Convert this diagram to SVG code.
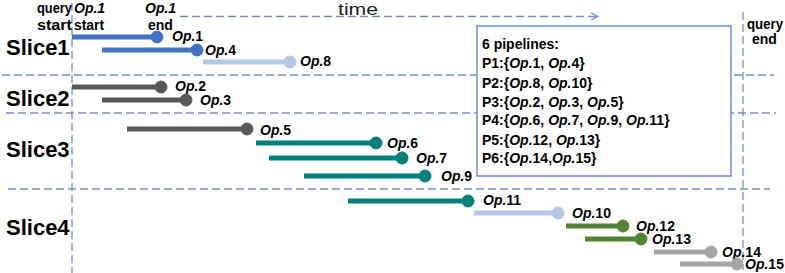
<svg xmlns="http://www.w3.org/2000/svg" width="785" height="273" viewBox="0 0 785 273">
<style>
.dash{stroke:#6F8FD6;stroke-width:1.3;stroke-dasharray:8 4;fill:none}
.t{font-family:"Liberation Sans",Arial,sans-serif;font-weight:bold;font-size:14px;fill:#000}
.sl{font-family:"Liberation Sans",Arial,sans-serif;font-weight:bold;font-size:22px;fill:#000}
.i{font-style:italic}
.bar{stroke-width:5;fill:none}
.blue{stroke:#4472C4;fill:#4472C4}
.lblue{stroke:#B4C7E7;fill:#B4C7E7}
.dgray{stroke:#595959;fill:#595959}
.teal{stroke:#00807B;fill:#00807B}
.green{stroke:#548235;fill:#548235}
.lgray{stroke:#A5A5A5;fill:#A5A5A5}
</style>
<rect width="785" height="273" fill="#fff"/>
<g id="guides">
<line class="dash" x1="72" y1="3" x2="72" y2="273"/>
<line class="dash" x1="743" y1="12" x2="743" y2="270"/>
<line class="dash" x1="2" y1="75" x2="774" y2="75"/>
<line class="dash" x1="6" y1="113" x2="776" y2="113"/>
<line class="dash" x1="8" y1="189" x2="770" y2="189"/>
</g>
<g id="connectors">
<line class="dash" x1="180" y1="16.5" x2="596" y2="16.5"/>
<polyline points="591,13 598,16.5 591,20" fill="none" stroke="#6F8FD6" stroke-width="1.3"/>
</g>
<text x="338" y="15" font-family="'Liberation Sans',Arial,sans-serif" font-size="16" fill="#222" textLength="40" lengthAdjust="spacingAndGlyphs">time</text>
<g id="axis-labels">
<text class="t" x="37" y="13" textLength="35" lengthAdjust="spacingAndGlyphs">query</text>
<text class="t" x="37" y="30" textLength="35" lengthAdjust="spacingAndGlyphs">start</text>
<text class="t i" x="74" y="13">Op.1</text>
<text class="t" x="74" y="30" textLength="30" lengthAdjust="spacingAndGlyphs">start</text>
<text class="t i" x="145" y="13">Op.1</text>
<text class="t" x="148" y="30">end</text>
<text class="t" x="747" y="29" textLength="36" lengthAdjust="spacingAndGlyphs">query</text>
<text class="t" x="752" y="44">end</text>
</g>
<g id="slices">
<text class="sl" x="6" y="55">Slice1</text>
<text class="sl" x="6" y="106">Slice2</text>
<text class="sl" x="6" y="157">Slice3</text>
<text class="sl" x="6" y="235">Slice4</text>
</g>
<g id="pipelines-box">
<rect x="477" y="26" width="254" height="150" fill="#fff" stroke="#6F8FD6" stroke-width="1.5"/>
<text class="t" x="482" y="49">6 pipelines:</text>
<text class="t" x="482" y="68">P1:{<tspan class="i">Op.</tspan>1, <tspan class="i">Op.</tspan>4}</text>
<text class="t" x="482" y="88">P2:{<tspan class="i">Op.</tspan>8, <tspan class="i">Op.</tspan>10}</text>
<text class="t" x="482" y="107">P3:{<tspan class="i">Op.</tspan>2, <tspan class="i">Op.</tspan>3, <tspan class="i">Op.</tspan>5}</text>
<text class="t" x="482" y="125">P4:{<tspan class="i">Op.</tspan>6, <tspan class="i">Op.</tspan>7, <tspan class="i">Op.</tspan>9, <tspan class="i">Op.</tspan>11}</text>
<text class="t" x="482" y="145">P5:{<tspan class="i">Op.</tspan>12, <tspan class="i">Op.</tspan>13}</text>
<text class="t" x="482" y="163">P6:{<tspan class="i">Op.</tspan>14,<tspan class="i">Op.</tspan>15}</text>
</g>
<g id="op1"><line class="bar blue" x1="72" y1="37" x2="157" y2="37"/><circle class="blue" cx="157" cy="37" r="6"/><text class="t" x="172" y="41"><tspan class="i">Op.</tspan>1</text></g>
<g id="op4"><line class="bar blue" x1="102" y1="50" x2="197" y2="50"/><circle class="blue" cx="197" cy="50" r="6"/><text class="t" x="205" y="55"><tspan class="i">Op.</tspan>4</text></g>
<g id="op8"><line class="bar lblue" x1="203" y1="62" x2="290" y2="62"/><circle class="lblue" cx="290" cy="62" r="6"/><text class="t" x="300" y="66"><tspan class="i">Op.</tspan>8</text></g>
<g id="op2"><line class="bar dgray" x1="72" y1="87" x2="161" y2="87"/><circle class="dgray" cx="161" cy="87" r="6"/><text class="t" x="175" y="91"><tspan class="i">Op.</tspan>2</text></g>
<g id="op3"><line class="bar dgray" x1="102" y1="100" x2="186" y2="100"/><circle class="dgray" cx="186" cy="100" r="6"/><text class="t" x="200" y="105"><tspan class="i">Op.</tspan>3</text></g>
<g id="op5"><line class="bar dgray" x1="127" y1="129" x2="247" y2="129"/><circle class="dgray" cx="247" cy="129" r="6"/><text class="t" x="260" y="135"><tspan class="i">Op.</tspan>5</text></g>
<g id="op6"><line class="bar teal" x1="256" y1="143" x2="376" y2="143"/><circle class="teal" cx="376" cy="143" r="6"/><text class="t" x="387" y="148"><tspan class="i">Op.</tspan>6</text></g>
<g id="op7"><line class="bar teal" x1="269" y1="158" x2="402" y2="158"/><circle class="teal" cx="402" cy="158" r="6"/><text class="t" x="416" y="163"><tspan class="i">Op.</tspan>7</text></g>
<g id="op9"><line class="bar teal" x1="304" y1="176" x2="425" y2="176"/><circle class="teal" cx="425" cy="176" r="6"/><text class="t" x="441" y="181"><tspan class="i">Op.</tspan>9</text></g>
<g id="op11"><line class="bar teal" x1="348" y1="201" x2="468" y2="201"/><circle class="teal" cx="468" cy="201" r="6"/><text class="t" x="483" y="205"><tspan class="i">Op.</tspan>11</text></g>
<g id="op10"><line class="bar lblue" x1="474" y1="213" x2="558" y2="213"/><circle class="lblue" cx="558" cy="213" r="6"/><text class="t" x="572" y="218"><tspan class="i">Op.</tspan>10</text></g>
<g id="op12"><line class="bar green" x1="566" y1="226" x2="623" y2="226"/><circle class="green" cx="623" cy="226" r="6"/><text class="t" x="636" y="231"><tspan class="i">Op.</tspan>12</text></g>
<g id="op13"><line class="bar green" x1="585" y1="239" x2="641" y2="239"/><circle class="green" cx="641" cy="239" r="6"/><text class="t" x="652" y="244"><tspan class="i">Op.</tspan>13</text></g>
<g id="op14"><line class="bar lgray" x1="654" y1="252" x2="711" y2="252"/><circle class="lgray" cx="711" cy="252" r="6"/><text class="t" x="722" y="257"><tspan class="i">Op.</tspan>14</text></g>
<g id="op15"><line class="bar lgray" x1="680" y1="264" x2="737" y2="264"/><circle class="lgray" cx="737" cy="264" r="6"/><text class="t" x="745" y="269"><tspan class="i">Op.</tspan>15</text></g>
</svg>
